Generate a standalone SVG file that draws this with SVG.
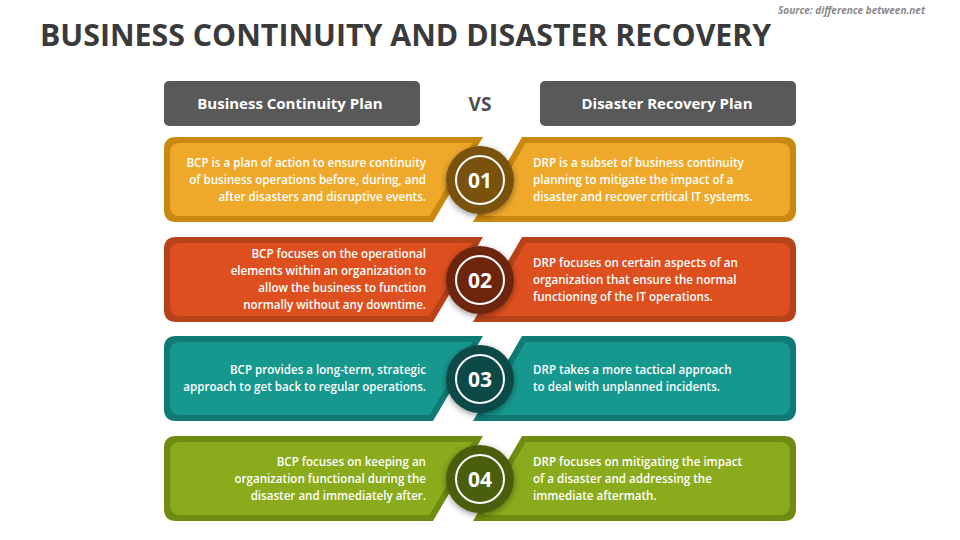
<svg xmlns="http://www.w3.org/2000/svg" width="960" height="540" viewBox="0 0 960 540">
<defs>
<style>
text{font-family:"Open Sans","Noto Sans","Liberation Sans",sans-serif}
.title{font-size:30.3px;font-weight:700;fill:#3a3a3a}
.src{font-size:10px;font-weight:700;font-style:italic;fill:#8a8a8a}
.hdr{font-size:15px;font-weight:700;fill:#fff}
.vs{font-size:19px;font-weight:700;fill:#505050}
.t{font-size:11.6px;font-weight:600;fill:#fff}
.num{font-size:21px;font-weight:700;fill:#fff}
.ring{fill:none;stroke:#fff;stroke-width:2}
</style>
<path id="lo" d="M176 137 L483 137 L433 222 L176 222 Q164 222 164 210 L164 149 Q164 137 176 137 Z"/>
<path id="li" d="M180 143 L472.5 143 L429.5 216 L180 216 Q170 216 170 206 L170 153 Q170 143 180 143 Z"/>
<path id="ro" d="M522 137 L784 137 Q796 137 796 149 L796 210 Q796 222 784 222 L473 222 Z"/>
<path id="ri" d="M525.5 143 L780 143 Q790 143 790 153 L790 206 Q790 216 780 216 L483.5 216 Z"/>
<filter id="sh" x="-30%" y="-30%" width="160%" height="160%"><feDropShadow dx="0" dy="2" stdDeviation="3" flood-color="#000" flood-opacity="0.4"/></filter>
</defs>
<rect width="960" height="540" fill="#fff"/>
<text x="925" y="14" text-anchor="end" class="src">Source: difference between.net</text>
<text x="40" y="46" class="title">BUSINESS CONTINUITY AND DISASTER RECOVERY</text>
<g id="hdr-bcp"><rect x="164" y="81" width="256" height="45" rx="5" fill="#595959"/><text x="290" y="109" text-anchor="middle" class="hdr">Business Continuity Plan</text></g>
<g id="vs"><text x="480" y="111" text-anchor="middle" class="vs">VS</text></g>
<g id="hdr-drp"><rect x="540" y="81" width="256" height="45" rx="5" fill="#595959"/><text x="667" y="109" text-anchor="middle" class="hdr">Disaster Recovery Plan</text></g>

<g id="row1">
<use href="#lo" fill="#c98910"/><use href="#li" fill="#eea92a"/>
<use href="#ro" fill="#c98910"/><use href="#ri" fill="#eea92a"/>
<text class="t" text-anchor="end"><tspan x="426" y="167">BCP is a plan of action to ensure continuity</tspan><tspan x="426" y="184">of business operations before, during, and</tspan><tspan x="426" y="201">after disasters and disruptive events.</tspan></text>
<text class="t"><tspan x="533" y="167">DRP is a subset of business continuity</tspan><tspan x="533" y="184">planning to mitigate the impact of a</tspan><tspan x="533" y="201">disaster and recover critical IT systems.</tspan></text>
<circle cx="480" cy="180" r="34" fill="#79530f" filter="url(#sh)"/><circle cx="480" cy="180" r="24" class="ring"/>
<text x="480" y="188" text-anchor="middle" class="num">01</text>
</g>
<g id="row2" transform="translate(0,100)">
<use href="#lo" fill="#b8421a"/><use href="#li" fill="#dd4f1f"/>
<use href="#ro" fill="#b8421a"/><use href="#ri" fill="#dd4f1f"/>
<text class="t" text-anchor="end"><tspan x="426" y="158">BCP focuses on the operational</tspan><tspan x="426" y="175">elements within an organization to</tspan><tspan x="426" y="192">allow the business to function</tspan><tspan x="426" y="209">normally without any downtime.</tspan></text>
<text class="t"><tspan x="533" y="167">DRP focuses on certain aspects of an</tspan><tspan x="533" y="184">organization that ensure the normal</tspan><tspan x="533" y="201">functioning of the IT operations.</tspan></text>
<circle cx="480" cy="180" r="34" fill="#6d2710" filter="url(#sh)"/><circle cx="480" cy="180" r="24" class="ring"/>
<text x="480" y="188" text-anchor="middle" class="num">02</text>
</g>
<g id="row3" transform="translate(0,199)">
<use href="#lo" fill="#107a74"/><use href="#li" fill="#16988f"/>
<use href="#ro" fill="#107a74"/><use href="#ri" fill="#16988f"/>
<text class="t" text-anchor="end"><tspan x="426" y="175">BCP provides a long-term, strategic</tspan><tspan x="426" y="192">approach to get back to regular operations.</tspan></text>
<text class="t"><tspan x="533" y="175">DRP takes a more tactical approach</tspan><tspan x="533" y="192">to deal with unplanned incidents.</tspan></text>
<circle cx="480" cy="180" r="34" fill="#0d4a47" filter="url(#sh)"/><circle cx="480" cy="180" r="24" class="ring"/>
<text x="480" y="188" text-anchor="middle" class="num">03</text>
</g>
<g id="row4" transform="translate(0,299)">
<use href="#lo" fill="#6f8b12"/><use href="#li" fill="#8aab1b"/>
<use href="#ro" fill="#6f8b12"/><use href="#ri" fill="#8aab1b"/>
<text class="t" text-anchor="end"><tspan x="426" y="167">BCP focuses on keeping an</tspan><tspan x="426" y="184">organization functional during the</tspan><tspan x="426" y="201">disaster and immediately after.</tspan></text>
<text class="t"><tspan x="533" y="167">DRP focuses on mitigating the impact</tspan><tspan x="533" y="184">of a disaster and addressing the</tspan><tspan x="533" y="201">immediate aftermath.</tspan></text>
<circle cx="480" cy="180" r="34" fill="#4a5f0c" filter="url(#sh)"/><circle cx="480" cy="180" r="24" class="ring"/>
<text x="480" y="188" text-anchor="middle" class="num">04</text>
</g>
<g id="connectors"/>
</svg>
